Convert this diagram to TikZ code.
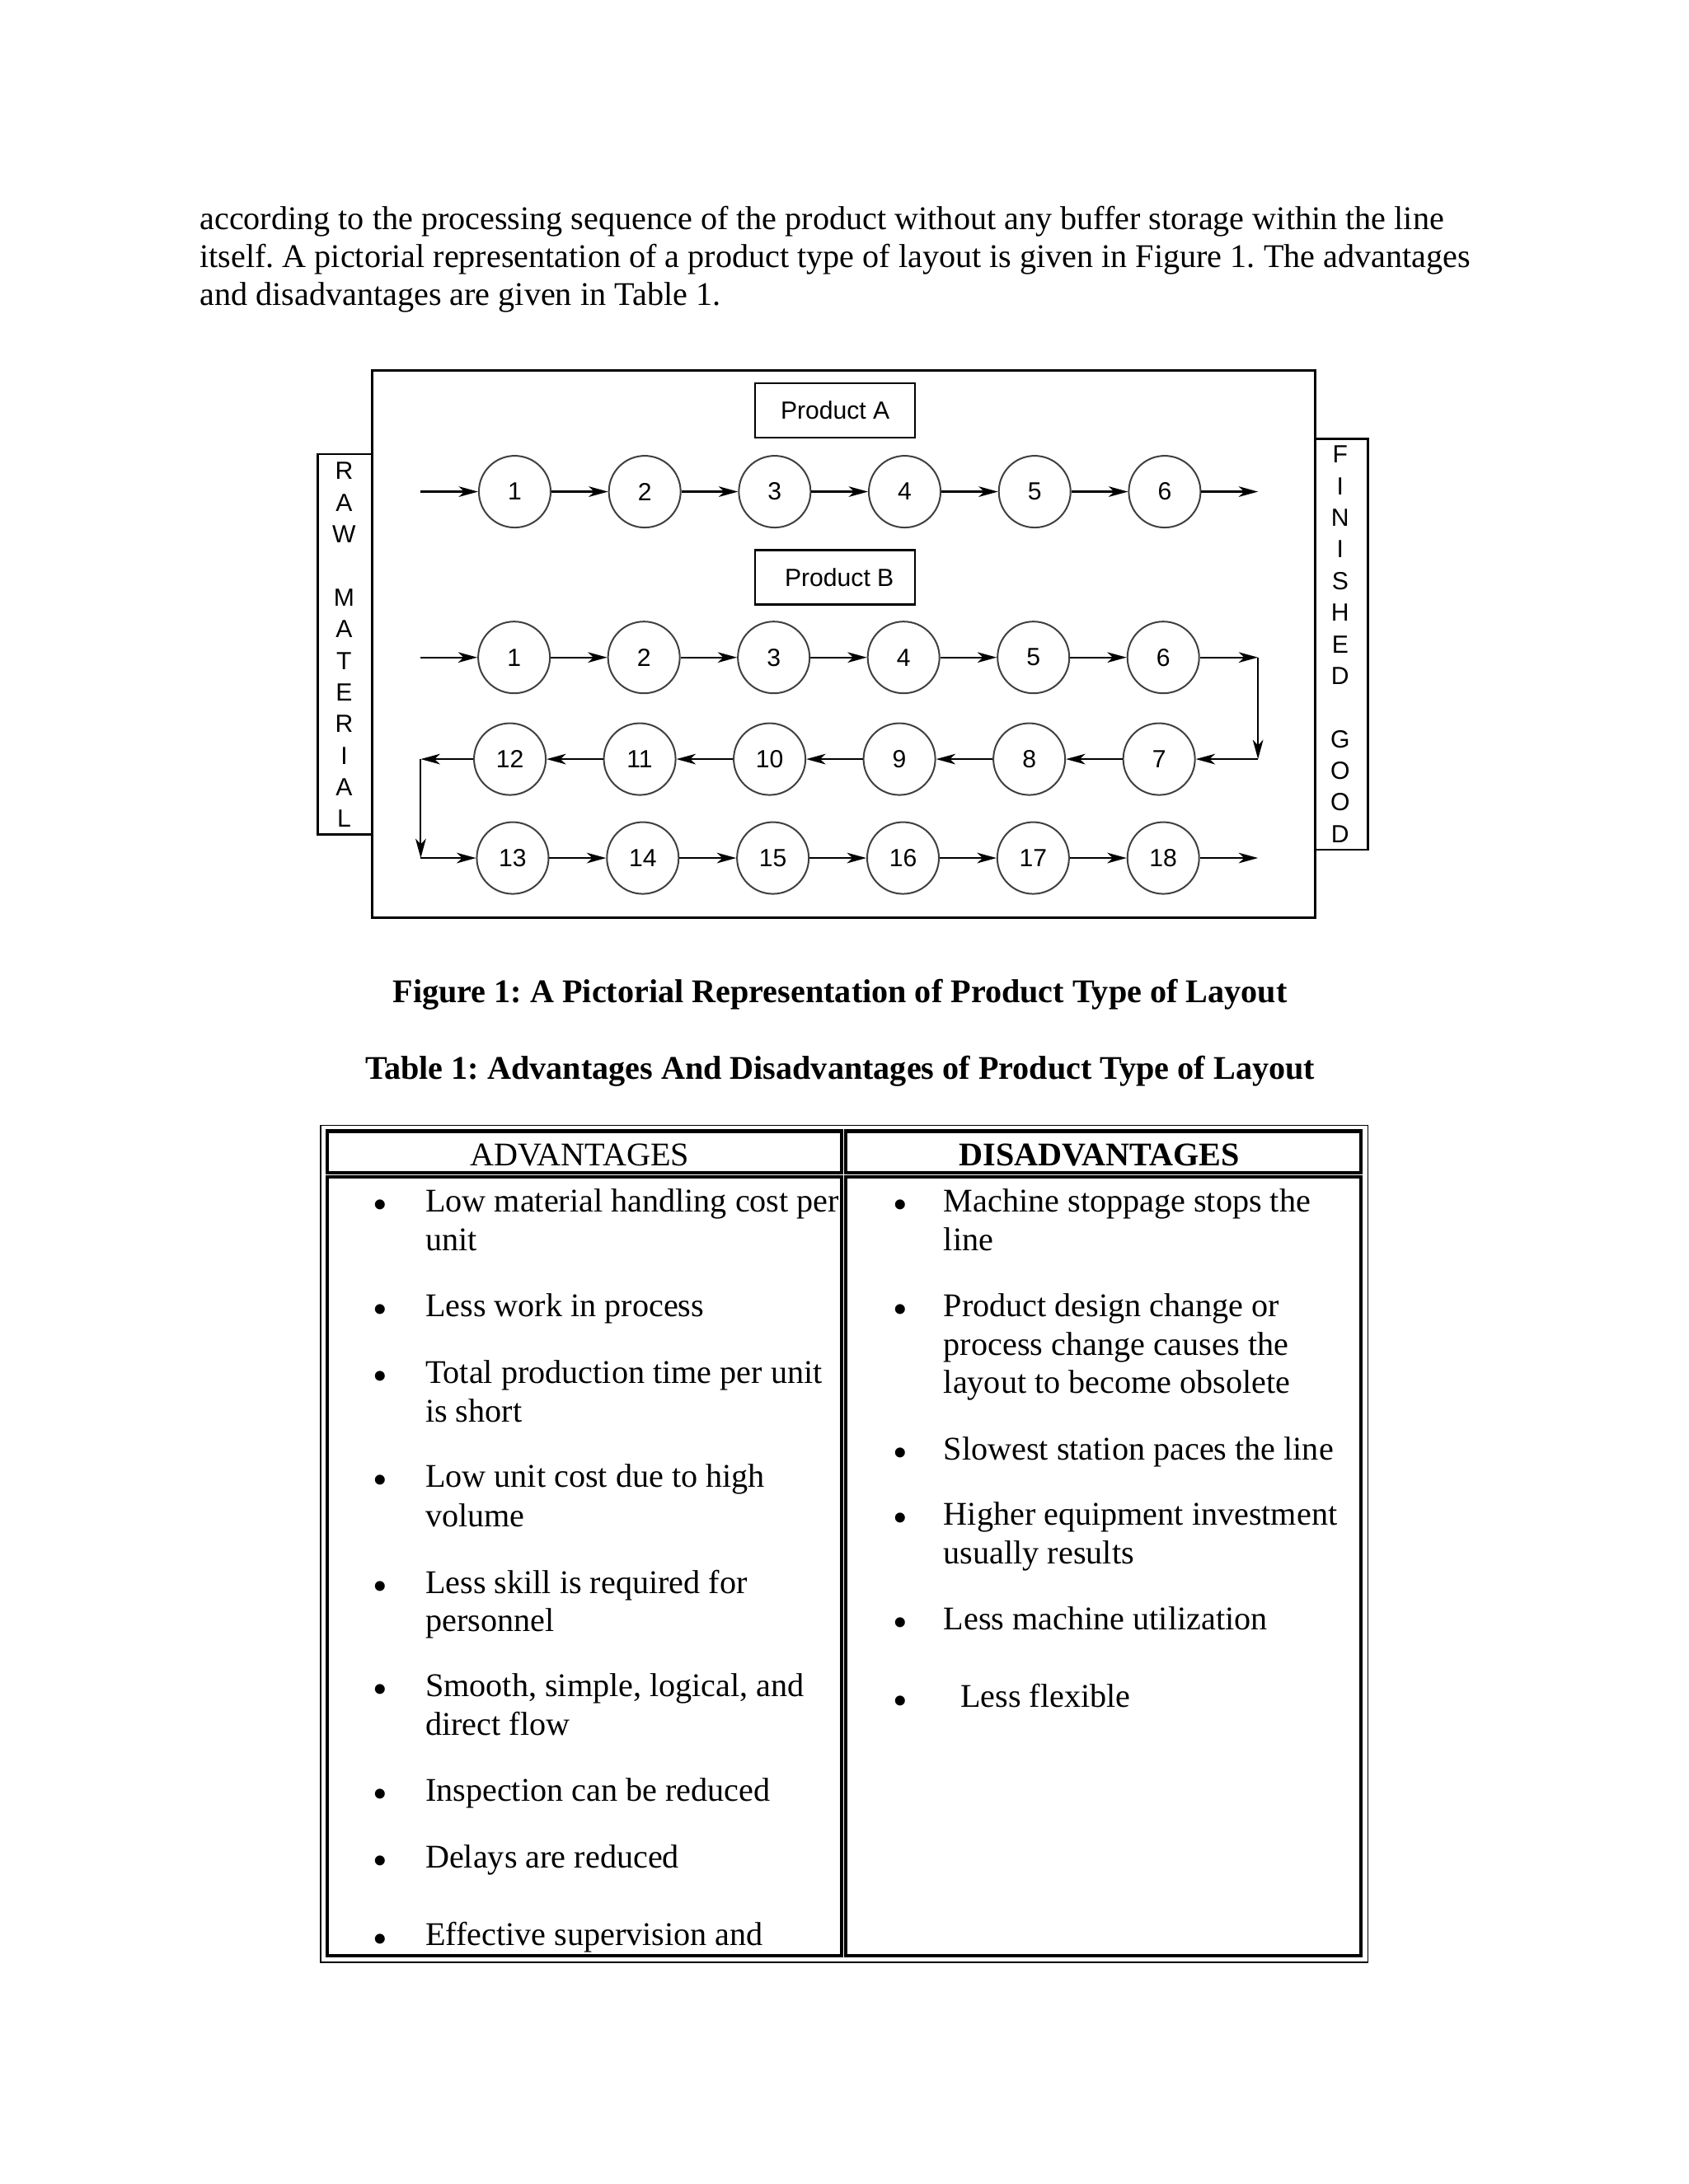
\documentclass[tikz,border=0pt]{standalone}
\usepackage{fontspec}
\setmainfont{Liberation Serif}
\newfontfamily\diagfont{Liberation Sans}
\frenchspacing
\usetikzlibrary{arrows.meta}
\tikzset{
    station/.style={circle, draw=black!75, line width=0.6pt, minimum size=26pt, inner sep=0pt,
        font=\diagfont\fontsize{9}{11}\selectfont},
    prodbox/.style={draw, line width=0.7pt, minimum width=58pt, minimum height=19.7pt, inner sep=0pt,
        font=\diagfont\fontsize{9}{11}\selectfont},
    flow/.style={-{Stealth[length=7pt,width=3.8pt,inset=2pt]}, line width=0.65pt},
    bodytext/.style={anchor=base west, inner sep=0pt, yshift=-1pt, font=\fontsize{12}{14}\selectfont},
    bulletmark/.style={anchor=base, inner sep=0pt, yshift=-3.4pt, font=\fontsize{15}{18}\selectfont},
    cellbox/.style={draw, line width=1.3pt}
}

\begin{document}
\begin{tikzpicture}[x={(0.50495pt,0)}, y={(0,-0.50495pt)}]
    \useasboundingbox (0,0) rectangle (1212,1568);

    % Paragraph above the figure
    \node[bodytext] (para1) at (143,163) {according to the processing sequence of the product without any buffer storage within the line};
    \node[bodytext] (para2) at (143,190) {itself. A pictorial representation of a product type of layout is given in Figure 1. The advantages};
    \node[bodytext] (para3) at (143,217) {and disadvantages are given in Table 1.};

    % Frames
    \draw[line width=0.8pt] (267,266) rectangle (944,659);
    \draw[line width=0.7pt] (228,326) rectangle (267,599);
    \draw[line width=0.7pt] (944,315) rectangle (982,610);
    \node[align=center, inner sep=0pt, font=\diagfont\fontsize{9}{11.46}\selectfont] (rawmat) at (247,463)
        {R\\A\\W\\[11.46pt]M\\A\\T\\E\\R\\I\\A\\L};
    \node[align=center, inner sep=0pt, font=\diagfont\fontsize{9}{11.46}\selectfont] (finished) at (962,462.5)
        {F\\I\\N\\I\\S\\H\\E\\D\\[11.46pt]G\\O\\O\\D};

    % Product labels
    \node[prodbox] (prodA) at (599.5,294.5) {Product A};
    \node[prodbox] (prodB) at (599.5,414.5) {\hspace{3pt}Product B};

    % Stations
    \foreach \i in {1,...,6} {
        \node[station] (a\i) at ({369.5+93.3*(\i-1)},353) {\i};
        \node[station] (b\i) at ({369+93.2*(\i-1)},472) {\i};
    }
    \foreach \i in {7,...,12}
        \node[station] (c\i) at ({832-93.2*(\i-7)},545) {\i};
    \foreach \i in {13,...,18}
        \node[station] (d\i) at ({368+93.4*(\i-13)},616) {\i};

    % Free ends and corners of the flow lines
    \coordinate (ain) at (302,353);
    \coordinate (aout) at (903,353);
    \coordinate (bin) at (302,472);
    \coordinate (bturn) at (903,472);
    \coordinate (cturn) at (903,545);
    \coordinate (cout) at (302,545);
    \coordinate (dturn) at (302,616);
    \coordinate (dout) at (903,616);

    % Product A flow
    \draw[flow] (ain) -- (a1);
    \foreach \i/\j in {1/2,2/3,3/4,4/5,5/6}
        \draw[flow] (a\i) -- (a\j);
    \draw[flow] (a6) -- (aout);

    % Product B flow
    \draw[flow] (bin) -- (b1);
    \foreach \i/\j in {1/2,2/3,3/4,4/5,5/6}
        \draw[flow] (b\i) -- (b\j);
    \draw[flow] (b6) -- (bturn);
    \draw[flow] (bturn) -- (cturn);
    \draw[flow] (cturn) -- (c7);
    \foreach \i/\j in {7/8,8/9,9/10,10/11,11/12}
        \draw[flow] (c\i) -- (c\j);
    \draw[flow] (c12) -- (cout);
    \draw[flow] (cout) -- (dturn);
    \draw[flow] (dturn) -- (d13);
    \foreach \i/\j in {13/14,14/15,15/16,16/17,17/18}
        \draw[flow] (d\i) -- (d\j);
    \draw[flow] (d18) -- (dout);

    % Captions
    \node[anchor=base, inner sep=0pt, font=\bfseries\fontsize{12}{14}\selectfont] (figcap) at (603,720)
        {Figure 1: A Pictorial Representation of Product Type of Layout};
    \node[anchor=base, inner sep=0pt, font=\bfseries\fontsize{12}{14}\selectfont] (tabcap) at (603,775)
        {Table 1: Advantages And Disadvantages of Product Type of Layout};

    % Table frame and cells
    \draw[line width=0.5pt] (230,808) rectangle (982,1409);
    \draw[cellbox] (235,812) rectangle (604,842);
    \draw[cellbox] (607,812) rectangle (977,842);
    \draw[cellbox] (235,845) rectangle (604,1404);
    \draw[cellbox] (607,845) rectangle (977,1404);
    \node[anchor=base, inner sep=0pt, font=\fontsize{12}{14}\selectfont] (advhead) at (416,837) {ADVANTAGES};
    \node[anchor=base, inner sep=0pt, font=\bfseries\fontsize{12}{14}\selectfont] (dishead) at (789,837) {DISADVANTAGES};

    % Advantages
    \foreach \y in {868,943,991,1066,1142,1216,1291,1339,1395}
        \node[bulletmark] at (273,\y) {\textbullet};
    \node[bodytext] (adv1) at (305,868) {Low material handling cost per};
    \node[bodytext] (adv1b) at (305,896) {unit};
    \node[bodytext] (adv2) at (305,943) {Less work in process};
    \node[bodytext] (adv3) at (305,991) {Total production time per unit};
    \node[bodytext] (adv3b) at (305,1019) {is short};
    \node[bodytext] (adv4) at (305,1066) {Low unit cost due to high};
    \node[bodytext] (adv4b) at (305,1094) {volume};
    \node[bodytext] (adv5) at (305,1142) {Less skill is required for};
    \node[bodytext] (adv5b) at (305,1169) {personnel};
    \node[bodytext] (adv6) at (305,1216) {Smooth, simple, logical, and};
    \node[bodytext] (adv6b) at (305,1244) {direct flow};
    \node[bodytext] (adv7) at (305,1291) {Inspection can be reduced};
    \node[bodytext] (adv8) at (305,1339) {Delays are reduced};
    \node[bodytext] (adv9) at (305,1395) {Effective supervision and};

    % Disadvantages
    \foreach \y in {868,943,1046,1093,1168,1224}
        \node[bulletmark] at (646,\y) {\textbullet};
    \node[bodytext] (dis1) at (677,868) {Machine stoppage stops the};
    \node[bodytext] (dis1b) at (677,896) {line};
    \node[bodytext] (dis2) at (677,943) {Product design change or};
    \node[bodytext] (dis2b) at (677,971) {process change causes the};
    \node[bodytext] (dis2c) at (677,998) {layout to become obsolete};
    \node[bodytext] (dis3) at (677,1046) {Slowest station paces the line};
    \node[bodytext] (dis4) at (677,1093) {Higher equipment investment};
    \node[bodytext] (dis4b) at (677,1121) {usually results};
    \node[bodytext] (dis5) at (677,1168) {Less machine utilization};
    \node[bodytext] (dis6) at (689,1224) {Less flexible};
\end{tikzpicture}
\end{document}
